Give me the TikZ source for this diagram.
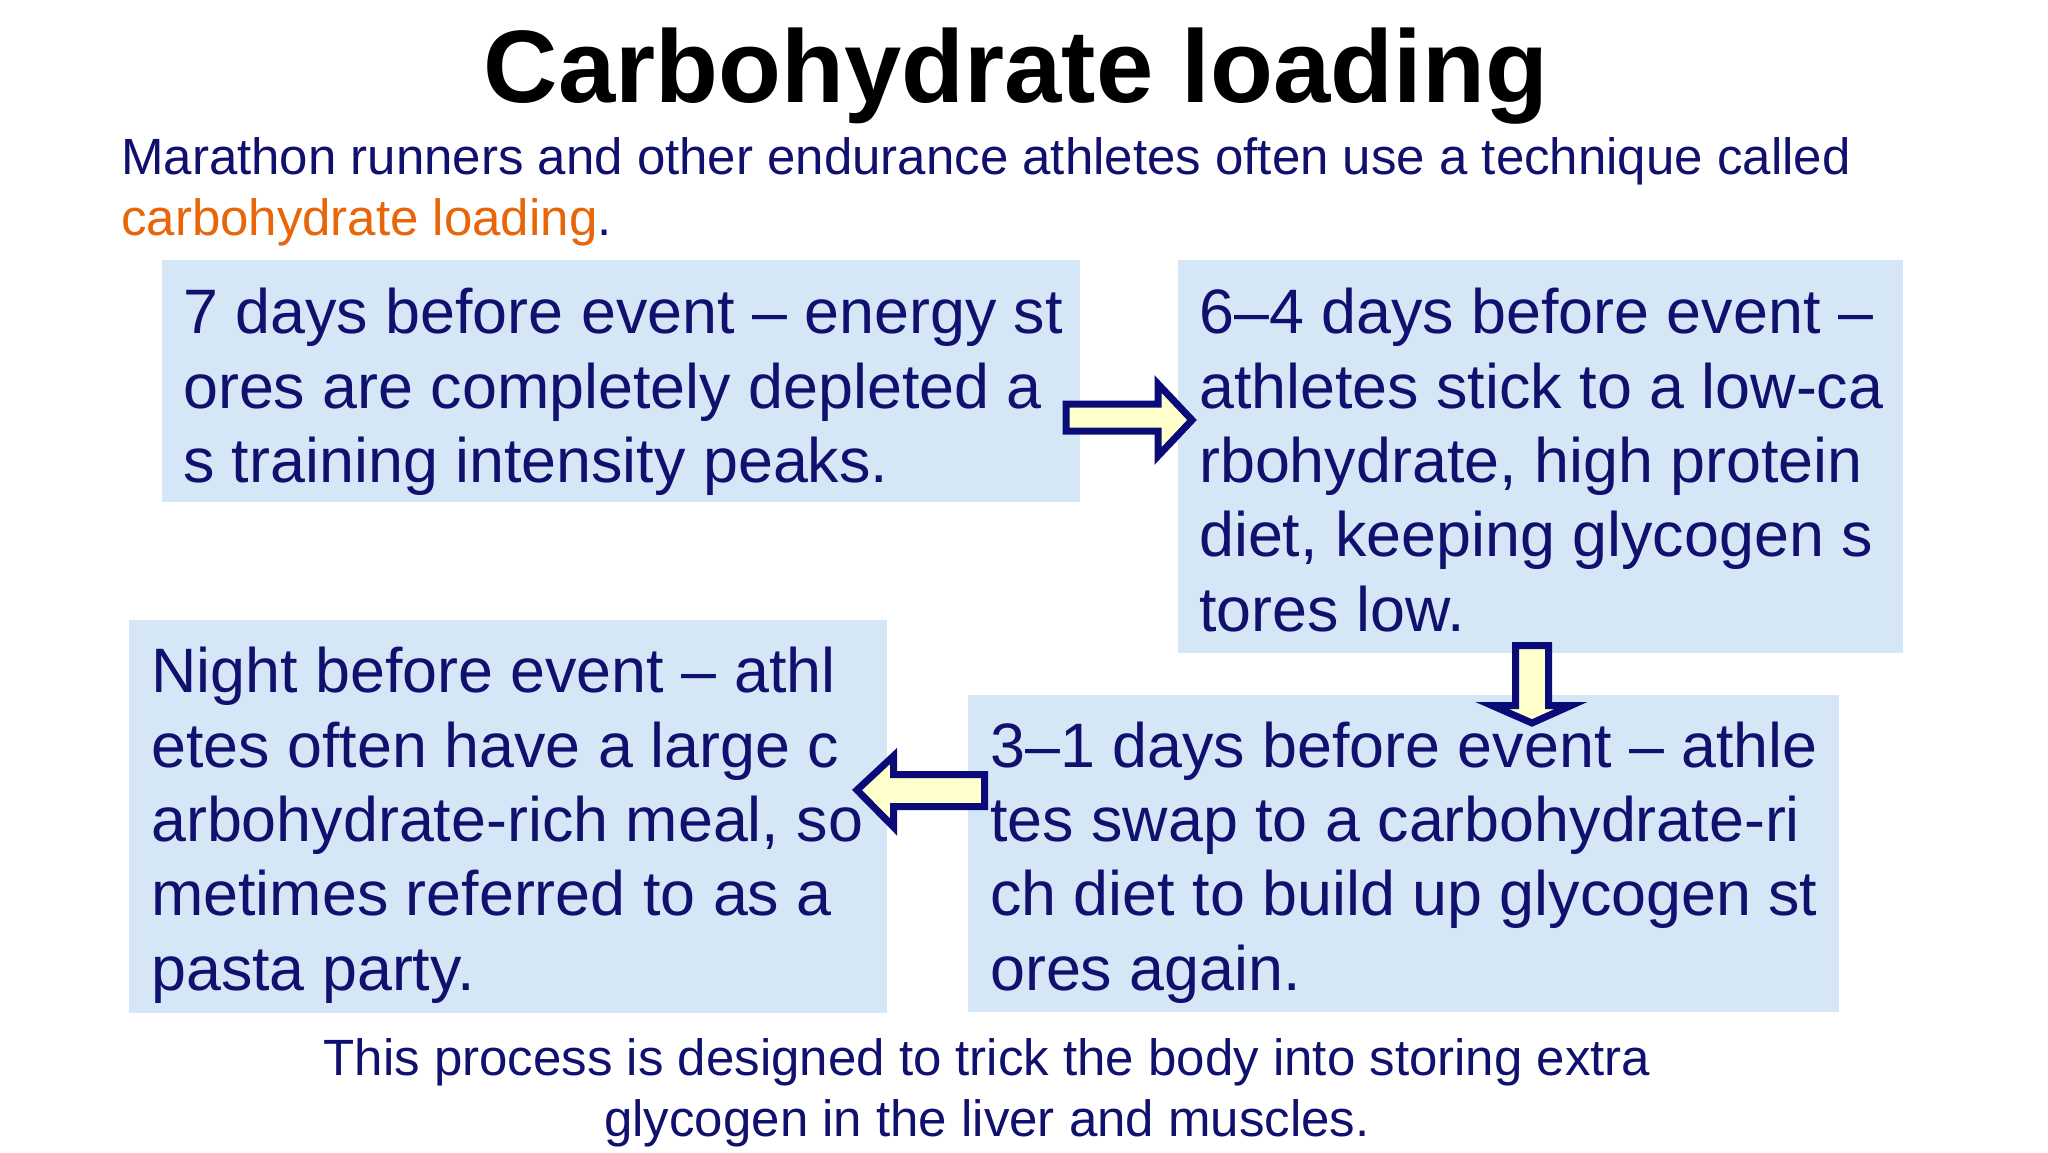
\documentclass[tikz,border=0pt]{standalone}
\usepackage{fontspec}
\setmainfont{Liberation Sans}
\definecolor{navy}{RGB}{16,16,110}
\definecolor{arrownavy}{RGB}{10,10,120}
\definecolor{boxblue}{RGB}{213,231,247}
\definecolor{orangetxt}{RGB}{232,101,10}
\definecolor{arrowfill}{RGB}{255,255,204}
\tikzset{
  infobox/.style={rectangle, fill=boxblue, draw=none, anchor=north west, inner sep=0pt},
  boxline/.style={anchor=base west, inner sep=0pt, text=navy, font=\fontsize{62.8}{76}\selectfont},
  blockarrow/.style={draw=arrownavy, fill=arrowfill, line width=7pt, line join=miter},
  bodytext/.style={inner sep=0pt, text=navy, font=\fontsize{51}{60}\selectfont}
}
\begin{document}
\begin{tikzpicture}[x=1pt,y=-1pt]
\useasboundingbox[fill=white] (0,0) rectangle (2048,1152);
% title
\node[anchor=base, inner sep=0pt, font=\fontsize{103}{120}\selectfont\bfseries] (title) at (1016,102) {Carbohydrate loading};
% intro
\node[bodytext, anchor=base west] (intro1) at (121,174) {Marathon runners and other endurance athletes often use a technique called};
\node[bodytext, anchor=base west] (intro2) at (121,235) {\textcolor{orangetxt}{carbohydrate loading}.};
% boxes
\node[infobox, minimum width=918pt, minimum height=242pt] (b1) at (162,260) {};
\node[infobox, minimum width=725pt, minimum height=393pt] (b2) at (1178,260) {};
\node[infobox, minimum width=758pt, minimum height=393pt] (b3) at (129,620) {};
\node[infobox, minimum width=871pt, minimum height=317pt] (b4) at (968,695) {};
% box 1 text
\node[boxline] (b1l1) at (183,333) {7 days before event – energy st};
\node[boxline] (b1l2) at (183,408) {ores are completely depleted a};
\node[boxline] (b1l3) at (183,482) {s training intensity peaks.};
% box 2 text
\node[boxline] (b2l1) at (1199,333) {6–4 days before event –};
\node[boxline] (b2l2) at (1199,408) {athletes stick to a low-ca};
\node[boxline] (b2l3) at (1199,482) {rbohydrate, high protein};
\node[boxline] (b2l4) at (1199,556) {diet, keeping glycogen s};
\node[boxline] (b2l5) at (1199,631) {tores low.};
% box 3 text
\node[boxline] (b3l1) at (151,692) {Night before event – athl};
\node[boxline] (b3l2) at (151,767) {etes often have a large c};
\node[boxline] (b3l3) at (151,841) {arbohydrate-rich meal, so};
\node[boxline] (b3l4) at (151,915) {metimes referred to as a};
\node[boxline] (b3l5) at (151,990) {pasta party.};
% box 4 text
\node[boxline] (b4l1) at (990,767) {3–1 days before event – athle};
\node[boxline] (b4l2) at (990,841) {tes swap to a carbohydrate-ri};
\node[boxline] (b4l3) at (990,915) {ch diet to build up glycogen st};
\node[boxline] (b4l4) at (990,990) {ores again.};
% block arrows
\draw[blockarrow] (1066,404) -- (1158,404) -- (1158,384) -- (1192,420) -- (1158,456) -- (1158,431) -- (1066,431) -- cycle;
\draw[blockarrow] (1515.5,645.5) -- (1548.5,645.5) -- (1548.5,705.5) -- (1571,705.5) -- (1532,723) -- (1492,705.5) -- (1515.5,705.5) -- cycle;
\draw[blockarrow] (984.5,774.5) -- (893.5,774.5) -- (893.5,756) -- (857,790) -- (893.5,827) -- (893.5,806.5) -- (984.5,806.5) -- cycle;
% closing text
\node[bodytext, anchor=base] (close1) at (987,1075) {This process is designed to trick the body into storing extra};
\node[bodytext, anchor=base] (close2) at (987,1136) {glycogen in the liver and muscles.};
\end{tikzpicture}
\end{document}
